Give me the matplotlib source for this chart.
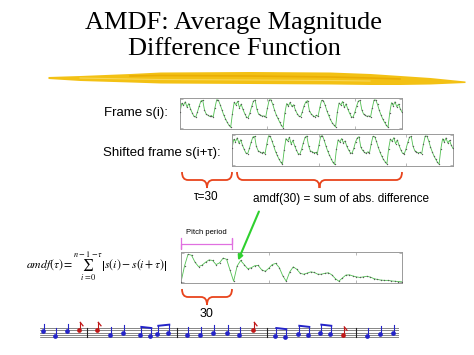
import numpy as np
import matplotlib
matplotlib.use("Agg")
import matplotlib.pyplot as plt
from matplotlib.path import Path
from matplotlib.patches import PathPatch

plt.rcParams["mathtext.fontset"] = "stix"
SANS = ["Liberation Sans", "DejaVu Sans"]
SERIF = ["Liberation Serif", "DejaVu Serif"]

# =============================================================================
# DATA
# =============================================================================

TITLE_LINES = ["AMDF: Average Magnitude", "Difference Function"]
TAU = 30

# one speech frame s(i), i = 0..127 (normalised amplitude)
frame = [
    0.55, 0.85, 0.78, 0.90, 0.72, 0.84, 0.66, 0.52, 0.40, 0.38,
    0.55, 0.76, 0.93, 0.95, 0.62, 0.48, 0.44, 0.40, 0.43, 0.38,
    0.70, 0.97, 0.95, 0.80, 0.62, 0.45, 0.32, 0.20, 0.10, 0.03,
    0.50, 0.88, 0.80, 0.92, 0.70, 0.82, 0.64, 0.50, 0.38, 0.36,
    0.52, 0.74, 0.92, 0.96, 0.64, 0.47, 0.45, 0.41, 0.42, 0.37,
    0.68, 0.96, 0.97, 0.82, 0.63, 0.46, 0.33, 0.21, 0.09, 0.02,
    0.52, 0.84, 0.76, 0.88, 0.74, 0.80, 0.62, 0.50, 0.41, 0.39,
    0.56, 0.77, 0.90, 0.94, 0.60, 0.49, 0.43, 0.39, 0.44, 0.40,
    0.71, 0.95, 0.94, 0.79, 0.60, 0.44, 0.30, 0.19, 0.11, 0.04,
    0.54, 0.86, 0.79, 0.91, 0.71, 0.83, 0.65, 0.51, 0.39, 0.37,
    0.54, 0.75, 0.92, 0.95, 0.63, 0.48, 0.44, 0.40, 0.42, 0.38,
    0.69, 0.96, 0.96, 0.81, 0.61, 0.45, 0.31, 0.20, 0.10, 0.03,
    0.53, 0.87, 0.77, 0.90, 0.73, 0.82, 0.66, 0.55,
]

# AMDF curve, lags 0, 2, 4, ... 126
amdf_lag = list(range(0, 128, 2))
amdf_val = [
    0.00, 0.55, 0.95, 0.92, 0.68, 0.53, 0.58, 0.68, 0.76, 0.74,
    0.60, 0.66, 0.82, 0.78, 0.40, 0.03, 0.55, 0.74, 0.60, 0.46,
    0.49, 0.56, 0.57, 0.42, 0.37, 0.47, 0.60, 0.64, 0.50, 0.22,
    0.03, 0.35, 0.52, 0.44, 0.30, 0.27, 0.31, 0.35, 0.33, 0.27,
    0.27, 0.30, 0.32, 0.25, 0.12, 0.03, 0.14, 0.24, 0.25, 0.21,
    0.18, 0.16, 0.18, 0.20, 0.17, 0.12, 0.09, 0.07, 0.06, 0.06,
    0.04, 0.03, 0.02, 0.01,
]

# little music staff at the bottom: x position, staff step, kind
note_x     = [43, 55, 67, 79, 97, 110, 123, 140, 150, 157, 168,
              187, 200, 213, 227, 239, 253, 275, 285, 298, 308,
              320, 330, 343, 367, 380, 393]
note_step  = [5, 1, 5, 6, 6, 2, 4, 2, 1, 3, 4,
              2, 2, 4, 4, 2, 6, 1, 0, 3, 2,
              4, 3, 2, 1, 3, 4]
note_kind  = ["q", "q", "q", "e", "e", "q", "q", "b", "b", "b", "b",
              "q", "q", "q", "q", "q", "e", "b", "b", "b", "b",
              "b", "b", "e", "q", "q", "q"]
bar_x      = [87, 177, 267, 356]

# =============================================================================
# FIGURE
# =============================================================================

W, H = 474, 355
fig = plt.figure(figsize=(W / 100, H / 100), dpi=100)
fig.patch.set_facecolor("white")


def px_axes(x0, y0, x1, y1):
    return fig.add_axes([x0 / W, 1 - y1 / H, (x1 - x0) / W, (y1 - y0) / H])


def style_box(ax):
    for s in ax.spines.values():
        s.set_color("#9a9a9a")
        s.set_linewidth(0.7)
    ax.tick_params(direction="in", length=2, width=0.5, colors="#9a9a9a",
                   top=True, right=True, labelbottom=False, labelleft=False)


def wave(ax, x, y, xlim):
    ax.plot(x, y, color="#52c052", lw=0.6, zorder=2)
    ax.plot(x, y, ls="none", marker="o", ms=1.0, mfc="#5a5a5a", mec="none", zorder=3)
    ax.set_xlim(*xlim)
    ax.set_ylim(-0.03, 1.03)
    style_box(ax)


idx = np.arange(len(frame))
ax_f = px_axes(180, 98, 402, 129)
wave(ax_f, idx, frame, (0, len(frame) - 1))
ax_s = px_axes(232, 134, 453, 166)
wave(ax_s, idx, frame, (0, len(frame) - 1))
ax_a = px_axes(181, 252, 402, 283)
wave(ax_a, amdf_lag, amdf_val, (0, amdf_lag[-1]))

# staff
ax_m = px_axes(40, 318, 399, 342)
ax_m.set_xlim(40, 399)
ax_m.set_ylim(-4.4, 16.9)
ax_m.axis("off")
for s in range(0, 9, 2):
    ax_m.axhline(s, color="#555555", lw=0.5)
for b in bar_x:
    ax_m.plot([b, b], [0, 8], color="#222222", lw=0.8)
stem = 7
for nx, ns, nk in zip(note_x, note_step, note_kind):
    c = "#c01818" if nk == "e" else "#2424c8"
    ax_m.plot(nx, ns, marker="o", ms=3.4, color=c, mec="none")
    ax_m.plot([nx + 1.3, nx + 1.3], [ns, ns + stem], color=c, lw=0.8)
    if nk == "e":
        ax_m.plot([nx + 1.3, nx + 4], [ns + stem, ns + stem - 3], color=c, lw=0.9)
b_idx = [i for i, k in enumerate(note_kind) if k == "b"]
for a, b in zip(b_idx[0::2], b_idx[1::2]):
    ax_m.plot([note_x[a] + 1.3, note_x[b] + 1.3],
              [note_step[a] + stem, note_step[b] + stem], color="#2424c8", lw=1.4)

# =============================================================================
# OVERLAY: title, brush stroke, labels, braces, arrow
# =============================================================================

ov = fig.add_axes([0, 0, 1, 1])
ov.set_xlim(0, W)
ov.set_ylim(H, 0)
ov.axis("off")
ov.patch.set_visible(False)
ov.set_zorder(10)

ov.text(234, 29, TITLE_LINES[0], ha="center", va="baseline", fontsize=19, family=SERIF)
ov.text(234, 55, TITLE_LINES[1], ha="center", va="baseline", fontsize=19, family=SERIF)

brush_x   = [48, 80, 130, 160, 250, 330, 370, 400, 430, 465]
brush_top = [76.5, 75.5, 73.5, 72, 71.5, 72, 73.5, 75.5, 77.5, 81]
brush_bot = [78.5, 80.5, 82, 83, 83.5, 84, 84.5, 84.5, 84, 82.5]
ov.fill_between(brush_x, brush_top, brush_bot, color="#f3c114", lw=0)
ov.plot(brush_x[2:8], [76, 75.5, 76, 77, 78, 79], color="#e6a500", lw=1.2, alpha=0.7)
ov.plot(brush_x[1:7], [78, 79, 79.5, 80, 80.5, 81], color="#f9dd6a", lw=0.8, alpha=0.8)

ov.text(168, 113, "Frame s(i):", ha="right", va="center", fontsize=9.5, family=SANS)
ov.text(221, 153, "Shifted frame s(i+\u03c4):", ha="right", va="center", fontsize=9.5, family=SANS)


def brace(x0, x1, y0, h, color="#e8441c"):
    xm = (x0 + x1) / 2
    r = min(6, (x1 - x0) / 4)
    ym = y0 + h / 2
    verts = [(x0, y0), (x0, ym), (x0 + r, ym), (xm - r, ym), (xm, ym), (xm, y0 + h),
             (xm, ym), (xm + r, ym), (x1 - r, ym), (x1, ym), (x1, y0)]
    codes = [Path.MOVETO, Path.CURVE3, Path.CURVE3, Path.LINETO, Path.CURVE3, Path.CURVE3,
             Path.CURVE3, Path.CURVE3, Path.LINETO, Path.CURVE3, Path.CURVE3]
    ov.add_patch(PathPatch(Path(verts, codes), fill=False, ec=color, lw=1.3))


brace(182, 232, 172, 16)
brace(237, 402, 172, 16)
brace(182, 232, 289, 16)

ov.text(206, 197, "\u03c4=%d" % TAU, ha="center", va="center", fontsize=8.5, family=SANS)
ov.text(253, 199, "amdf(%d) = sum of abs. difference" % TAU, ha="left", va="center",
        fontsize=8.5, family=SANS)
ov.text(207, 314, "%d" % TAU, ha="center", va="center", fontsize=9, family=SANS)

ov.annotate("", xy=(237, 263), xytext=(260, 209),
            arrowprops=dict(arrowstyle="-|>", color="#2fd02f", lw=1.5, mutation_scale=7))

# pitch period marker
ov.text(206, 233, "Pitch period", ha="center", va="center", fontsize=5.5, family=SANS)
ov.plot([181, 181, 181, 232, 232, 232], [238, 249, 244, 244, 238, 249], color="#e070e0", lw=0.9)

ov.text(97, 266,
        r"$amdf\left(\tau\right)=\sum_{i=0}^{n-1-\tau}\left|s\left(i\right)-s\left(i+\tau\right)\right|$",
        ha="center", va="center", fontsize=8.5)

fig.savefig("out.png", dpi=100, facecolor="white")
